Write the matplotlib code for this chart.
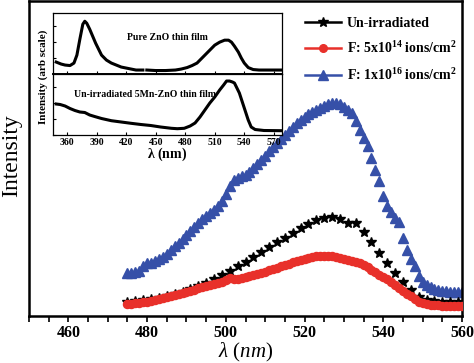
import numpy as np
import matplotlib
matplotlib.use('Agg')
from matplotlib import pyplot as plt
from matplotlib.lines import Line2D
from matplotlib.ticker import MultipleLocator

plt.rcParams['font.family'] = ['Liberation Serif', 'DejaVu Serif']
plt.rcParams['mathtext.fontset'] = 'custom'
plt.rcParams['mathtext.rm'] = 'Liberation Serif'
plt.rcParams['mathtext.it'] = 'Liberation Serif:italic'
plt.rcParams['mathtext.bf'] = 'Liberation Serif:bold'

# main PL spectra (arb. units)
wl_1nm = list(range(475, 561))
wl_2nm = list(range(475, 560, 2))

blue_1e16 = [43, 43, 44, 45, 50, 53, 53, 55, 57, 59, 62, 66, 70, 73, 77, 81, 85, 89, 93, 97,
             100, 103, 106, 110, 115, 122, 130, 136, 138, 140, 141, 144, 148, 152, 156, 160, 165, 169, 173, 177,
             181, 185, 189, 193, 196, 199, 202, 204, 206, 208, 210, 212, 213, 213, 212, 209, 206, 203, 195, 186,
             178, 170, 158, 146, 135, 120, 110, 104, 98, 94, 78, 66, 57, 50, 40, 34, 31, 29, 27, 26,
             25, 25, 24, 24, 24, 24]

red_5e14 = [12, 12, 13, 13, 14, 14, 15, 16, 17, 18, 19, 20, 21, 22, 23, 24, 25, 26, 28, 29,
            30, 31, 32, 33, 34, 36, 38, 37, 37, 38, 39, 40, 41, 42, 43, 44, 46, 47, 48, 50,
            51, 52, 54, 55, 56, 57, 58, 59, 60, 60, 60, 60, 60, 59, 58, 57, 56, 55, 54, 53,
            51, 49, 46, 44, 41, 39, 37, 34, 31, 28, 25, 22, 20, 17, 14, 13, 12, 11, 11, 11,
            10, 10, 10, 10, 10, 10]

black_unirr = [14, 15, 16, 17, 18, 20, 22, 24, 27, 30, 33, 37, 41, 45, 50, 54, 59, 64, 69, 74,
               78, 83, 88, 92, 96, 98, 99, 97, 93, 93, 84, 74, 63, 53, 43, 34, 26, 19, 16, 15,
               14, 14, 14]

# inset spectra
wl_zno = [349, 354, 358, 363, 367, 370, 373, 376, 378, 380, 383, 386, 389, 392, 395, 400, 405, 410,
          415, 420, 425, 430, 437, np.nan, 441, 450, 460, 470, 476, 482, 487, 492, 496, 500, 505, 510,
          515, 520, 524, 527, 530, 534, 537, 540, 544, 549, 555, 578]
pure_zno = [12, 10, 9, 8.5, 11, 19, 35, 50, 53, 51, 45, 38, 31, 25, 19, 14, 11, 9,
            7, 6, 5, 4, 4, np.nan, 4, 3.5, 3.5, 4, 5, 6.5, 8.5, 11, 15, 19, 24, 29,
            32, 34, 34, 32, 28, 22, 16, 11, 6.5, 4.5, 4, 4]

wl_mn = [349, 353, 358, 363, 368, 373, 378, 383, 388, 395, 405, 415, 425, 435, 440, 445, 455, 466,
         472, 479, 485, 490, 495, 500, 505, 510, 515, 519, 522, 525, 528, 530, 532, 535, 538, 541,
         544, 547, 551, 560, 578]
mn_zno = [31, 30.5, 29, 26.5, 24.5, 23, 22.5, 20, 18.5, 16.5, 14.3, 13, 11.7, 10.5, 10, 9.5, 8, 6.7,
          6.3, 6.7, 9, 12, 18, 25, 32, 38, 45, 50, 54, 54, 53, 52, 48, 42, 33, 24,
          15, 8, 5.5, 4.5, 4.3]

red = '#e8302a'
blue = '#3650a8'

fig = plt.figure(figsize=(4.74, 3.63), dpi=100)
ax = fig.add_axes([0.0612, 0.1295, 0.9135, 0.8677])

ax.plot(wl_1nm, blue_1e16, ls='none', marker='^', ms=6.5, color=blue, mec=blue, zorder=2)
ax.plot(wl_2nm, black_unirr, ls='none', marker='*', ms=7, color='black', zorder=3)
ax.plot(wl_1nm, red_5e14, ls='none', marker='o', ms=5.8, color=red, mec=red, zorder=4)

ax.set_xlim(450, 560)
ax.set_ylim(0, 315)
ax.xaxis.set_major_locator(MultipleLocator(20))
ax.xaxis.set_minor_locator(MultipleLocator(5))
ax.set_yticks([])
ax.tick_params(axis='x', which='both', direction='out', length=4, width=1.2, top=False, pad=2.5)
for lab in ax.get_xticklabels():
    lab.set_fontweight('bold')
    lab.set_fontsize(11.5)
for s in ax.spines.values():
    s.set_linewidth(1.8)
ax.set_xlabel(r'$\lambda$ ($\it{nm}$)', fontsize=15)
ax.xaxis.set_label_coords(0.5, -0.08)
ax.set_ylabel('Intensity', fontsize=17)
ax.yaxis.set_label_coords(-0.017, 0.51)

handles = [
    Line2D([], [], color='black', marker='*', ms=7, lw=1.8),
    Line2D([], [], color=red, marker='o', ms=5.5, lw=1.8),
    Line2D([], [], color=blue, marker='^', ms=6.5, lw=1.8),
]
labels = ['Un-irradiated',
          r'F: 5x10$^{\mathbf{14}}$ ions/cm$^{\mathbf{2}}$',
          r'F: 1x10$^{\mathbf{16}}$ ions/cm$^{\mathbf{2}}$']
leg = ax.legend(handles, labels, loc='upper left', bbox_to_anchor=(0.615, 0.98), frameon=False,
                prop={'weight': 'bold', 'size': 10}, handlelength=2.6, handletextpad=0.4,
                labelspacing=0.75, borderpad=0.2)

# inset: two stacked panels
ax1 = fig.add_axes([0.1124, 0.7961, 0.4819, 0.1673])
ax2 = fig.add_axes([0.1124, 0.6281, 0.4819, 0.1680], sharex=ax1)
ax1.plot(wl_zno, pure_zno, color='black', lw=2.2)
ax2.plot(wl_mn, mn_zno, color='black', lw=2.2)
for a in (ax1, ax2):
    a.set_xlim(346, 578)
    a.set_ylim(0, 61)
    a.xaxis.set_major_locator(MultipleLocator(30))
    a.yaxis.set_major_locator(MultipleLocator(16))
    a.set_yticklabels([])
    a.tick_params(direction='in', length=2, width=0.8, labelsize=7, pad=2)
    for s in a.spines.values():
        s.set_linewidth(0.9)
ax1.tick_params(labelbottom=False)
ax1.spines['bottom'].set_linewidth(1.4)
for lab in ax2.get_xticklabels():
    lab.set_fontweight('bold')
ax2.set_xlabel(r'$\mathbf{\lambda}$ (nm)', fontsize=10, fontweight='bold', labelpad=-1)
ax1.text(0.5, 0.6, 'Pure ZnO thin film', transform=ax1.transAxes, ha='center', va='center',
         fontsize=7, fontweight='bold')
ax2.text(0.4, 0.67, 'Un-irradiated 5Mn-ZnO thin film', transform=ax2.transAxes, ha='center',
         va='center', fontsize=7, fontweight='bold')
fig.text(0.091, 0.788, 'Intensity (arb scale)', rotation=90, ha='center', va='center',
         fontsize=8, fontweight='bold')

fig.savefig('out.png', dpi=100)
